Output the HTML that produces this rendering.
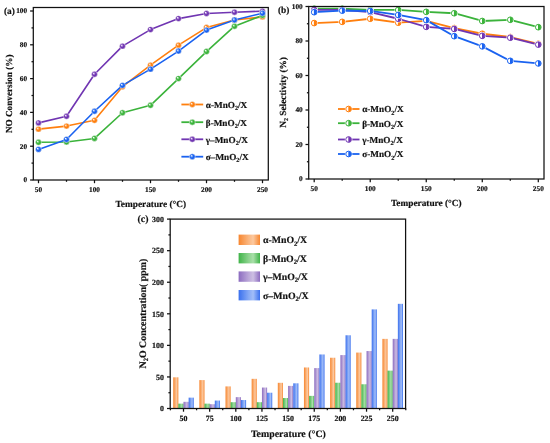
<!DOCTYPE html><html><head><meta charset="utf-8"><style>html,body{margin:0;padding:0;background:#fff;overflow:hidden;}svg{display:block;filter:grayscale(0.0001);}</style></head><body><svg width="550" height="443" viewBox="0 0 550 443">
<defs>
<radialGradient id="spha" cx="0.5" cy="0.5" r="0.5" fx="0.33" fy="0.33"><stop offset="0" stop-color="#ffffff"/><stop offset="0.18" stop-color="#ffc48f"/><stop offset="0.55" stop-color="#ff7f0e"/><stop offset="0.85" stop-color="#ff7f0e"/><stop offset="1" stop-color="#e06a05"/></radialGradient>
<radialGradient id="sphb" cx="0.5" cy="0.5" r="0.5" fx="0.33" fy="0.33"><stop offset="0" stop-color="#ffffff"/><stop offset="0.18" stop-color="#a4e0a4"/><stop offset="0.55" stop-color="#3bb33b"/><stop offset="0.85" stop-color="#3bb33b"/><stop offset="1" stop-color="#2a9a2a"/></radialGradient>
<radialGradient id="sphg" cx="0.5" cy="0.5" r="0.5" fx="0.33" fy="0.33"><stop offset="0" stop-color="#ffffff"/><stop offset="0.18" stop-color="#c7a8e6"/><stop offset="0.55" stop-color="#7035b2"/><stop offset="0.85" stop-color="#7035b2"/><stop offset="1" stop-color="#62289a"/></radialGradient>
<radialGradient id="sphs" cx="0.5" cy="0.5" r="0.5" fx="0.33" fy="0.33"><stop offset="0" stop-color="#ffffff"/><stop offset="0.18" stop-color="#9fc0fa"/><stop offset="0.55" stop-color="#1a62f0"/><stop offset="0.85" stop-color="#1a62f0"/><stop offset="1" stop-color="#0f4fcf"/></radialGradient>
<linearGradient id="bara" x1="0" y1="0" x2="1" y2="0"><stop offset="0" stop-color="#f7862f"/><stop offset="0.45" stop-color="#fab57e"/><stop offset="0.68" stop-color="#fcc9a0"/><stop offset="1" stop-color="#f7862f"/></linearGradient>
<linearGradient id="barb" x1="0" y1="0" x2="1" y2="0"><stop offset="0" stop-color="#40b449"/><stop offset="0.45" stop-color="#8ad28c"/><stop offset="0.68" stop-color="#a9dfa9"/><stop offset="1" stop-color="#40b449"/></linearGradient>
<linearGradient id="barg" x1="0" y1="0" x2="1" y2="0"><stop offset="0" stop-color="#8c6cc0"/><stop offset="0.45" stop-color="#baa6d8"/><stop offset="0.68" stop-color="#cdbfe3"/><stop offset="1" stop-color="#8c6cc0"/></linearGradient>
<linearGradient id="bars" x1="0" y1="0" x2="1" y2="0"><stop offset="0" stop-color="#3a70ee"/><stop offset="0.45" stop-color="#83a7f5"/><stop offset="0.68" stop-color="#a2bef8"/><stop offset="1" stop-color="#3a70ee"/></linearGradient>
</defs>
<rect width="550" height="443" fill="#fff"/>
<line x1="30.1" y1="180" x2="33.3" y2="180" stroke="#111" stroke-width="1.25"/>
<text transform="translate(27.1,182.45) scale(1,1.0)" font-size="7.3" text-anchor="end" text-rendering="geometricPrecision" font-family="Liberation Serif" font-weight="bold" stroke="#111" stroke-width="0.18" fill="#111">0</text>
<line x1="31.5" y1="163.1" x2="33.3" y2="163.1" stroke="#111" stroke-width="1.25"/>
<line x1="30.1" y1="146.2" x2="33.3" y2="146.2" stroke="#111" stroke-width="1.25"/>
<text transform="translate(27.1,148.65) scale(1,1.0)" font-size="7.3" text-anchor="end" text-rendering="geometricPrecision" font-family="Liberation Serif" font-weight="bold" stroke="#111" stroke-width="0.18" fill="#111">20</text>
<line x1="31.5" y1="129.3" x2="33.3" y2="129.3" stroke="#111" stroke-width="1.25"/>
<line x1="30.1" y1="112.4" x2="33.3" y2="112.4" stroke="#111" stroke-width="1.25"/>
<text transform="translate(27.1,114.85) scale(1,1.0)" font-size="7.3" text-anchor="end" text-rendering="geometricPrecision" font-family="Liberation Serif" font-weight="bold" stroke="#111" stroke-width="0.18" fill="#111">40</text>
<line x1="31.5" y1="95.5" x2="33.3" y2="95.5" stroke="#111" stroke-width="1.25"/>
<line x1="30.1" y1="78.6" x2="33.3" y2="78.6" stroke="#111" stroke-width="1.25"/>
<text transform="translate(27.1,81.05) scale(1,1.0)" font-size="7.3" text-anchor="end" text-rendering="geometricPrecision" font-family="Liberation Serif" font-weight="bold" stroke="#111" stroke-width="0.18" fill="#111">60</text>
<line x1="31.5" y1="61.7" x2="33.3" y2="61.7" stroke="#111" stroke-width="1.25"/>
<line x1="30.1" y1="44.8" x2="33.3" y2="44.8" stroke="#111" stroke-width="1.25"/>
<text transform="translate(27.1,47.25) scale(1,1.0)" font-size="7.3" text-anchor="end" text-rendering="geometricPrecision" font-family="Liberation Serif" font-weight="bold" stroke="#111" stroke-width="0.18" fill="#111">80</text>
<line x1="31.5" y1="27.9" x2="33.3" y2="27.9" stroke="#111" stroke-width="1.25"/>
<line x1="30.1" y1="11" x2="33.3" y2="11" stroke="#111" stroke-width="1.25"/>
<text transform="translate(27.1,13.45) scale(1,1.0)" font-size="7.3" text-anchor="end" text-rendering="geometricPrecision" font-family="Liberation Serif" font-weight="bold" stroke="#111" stroke-width="0.18" fill="#111">100</text>
<line x1="38.5" y1="180" x2="38.5" y2="183.2" stroke="#111" stroke-width="1.25"/>
<text transform="translate(38.5,191.8) scale(1,1.0)" font-size="7.3" text-anchor="middle" text-rendering="geometricPrecision" font-family="Liberation Serif" font-weight="bold" stroke="#111" stroke-width="0.18" fill="#111">50</text>
<line x1="66.5" y1="180" x2="66.5" y2="181.8" stroke="#111" stroke-width="1.25"/>
<line x1="94.5" y1="180" x2="94.5" y2="183.2" stroke="#111" stroke-width="1.25"/>
<text transform="translate(94.5,191.8) scale(1,1.0)" font-size="7.3" text-anchor="middle" text-rendering="geometricPrecision" font-family="Liberation Serif" font-weight="bold" stroke="#111" stroke-width="0.18" fill="#111">100</text>
<line x1="122.5" y1="180" x2="122.5" y2="181.8" stroke="#111" stroke-width="1.25"/>
<line x1="150.5" y1="180" x2="150.5" y2="183.2" stroke="#111" stroke-width="1.25"/>
<text transform="translate(150.5,191.8) scale(1,1.0)" font-size="7.3" text-anchor="middle" text-rendering="geometricPrecision" font-family="Liberation Serif" font-weight="bold" stroke="#111" stroke-width="0.18" fill="#111">150</text>
<line x1="178.5" y1="180" x2="178.5" y2="181.8" stroke="#111" stroke-width="1.25"/>
<line x1="206.5" y1="180" x2="206.5" y2="183.2" stroke="#111" stroke-width="1.25"/>
<text transform="translate(206.5,191.8) scale(1,1.0)" font-size="7.3" text-anchor="middle" text-rendering="geometricPrecision" font-family="Liberation Serif" font-weight="bold" stroke="#111" stroke-width="0.18" fill="#111">200</text>
<line x1="234.5" y1="180" x2="234.5" y2="181.8" stroke="#111" stroke-width="1.25"/>
<line x1="262.5" y1="180" x2="262.5" y2="183.2" stroke="#111" stroke-width="1.25"/>
<text transform="translate(262.5,191.8) scale(1,1.0)" font-size="7.3" text-anchor="middle" text-rendering="geometricPrecision" font-family="Liberation Serif" font-weight="bold" stroke="#111" stroke-width="0.18" fill="#111">250</text>
<text x="150.8" y="207" font-size="9.3" text-anchor="middle" text-rendering="geometricPrecision" font-family="Liberation Serif" font-weight="bold" stroke="#111" stroke-width="0.18" fill="#111" >Temperature (°C)</text>
<text transform="translate(12.2,93.8) rotate(-90)" font-size="9.200000000000001" text-anchor="middle" text-rendering="geometricPrecision" font-family="Liberation Serif" font-weight="bold" stroke="#111" stroke-width="0.18" fill="#111">NO Conversion (%)</text>
<text x="3.9" y="14.4" font-size="9.3" text-anchor="start" text-rendering="geometricPrecision" font-family="Liberation Serif" font-weight="bold" stroke="#111" stroke-width="0.18" fill="#111" >(a)</text>
<polyline points="38.5,129.13 66.5,126.09 94.5,120.34 122.5,86.71 150.5,65.08 178.5,45.14 206.5,27.56 234.5,19.96 262.5,16.91" fill="none" stroke="#ff7f0e" stroke-width="1.6" stroke-linejoin="round"/>
<circle cx="38.5" cy="129.13" r="2.95" fill="url(#spha)" stroke="#fff" stroke-width="0.5"/>
<circle cx="66.5" cy="126.09" r="2.95" fill="url(#spha)" stroke="#fff" stroke-width="0.5"/>
<circle cx="94.5" cy="120.34" r="2.95" fill="url(#spha)" stroke="#fff" stroke-width="0.5"/>
<circle cx="122.5" cy="86.71" r="2.95" fill="url(#spha)" stroke="#fff" stroke-width="0.5"/>
<circle cx="150.5" cy="65.08" r="2.95" fill="url(#spha)" stroke="#fff" stroke-width="0.5"/>
<circle cx="178.5" cy="45.14" r="2.95" fill="url(#spha)" stroke="#fff" stroke-width="0.5"/>
<circle cx="206.5" cy="27.56" r="2.95" fill="url(#spha)" stroke="#fff" stroke-width="0.5"/>
<circle cx="234.5" cy="19.96" r="2.95" fill="url(#spha)" stroke="#fff" stroke-width="0.5"/>
<circle cx="262.5" cy="16.91" r="2.95" fill="url(#spha)" stroke="#fff" stroke-width="0.5"/>
<polyline points="38.5,142.31 66.5,141.97 94.5,138.43 122.5,112.74 150.5,105.3 178.5,78.6 206.5,51.56 234.5,26.21 262.5,15.39" fill="none" stroke="#3bb33b" stroke-width="1.6" stroke-linejoin="round"/>
<circle cx="38.5" cy="142.31" r="2.95" fill="url(#sphb)" stroke="#fff" stroke-width="0.5"/>
<circle cx="66.5" cy="141.97" r="2.95" fill="url(#sphb)" stroke="#fff" stroke-width="0.5"/>
<circle cx="94.5" cy="138.43" r="2.95" fill="url(#sphb)" stroke="#fff" stroke-width="0.5"/>
<circle cx="122.5" cy="112.74" r="2.95" fill="url(#sphb)" stroke="#fff" stroke-width="0.5"/>
<circle cx="150.5" cy="105.3" r="2.95" fill="url(#sphb)" stroke="#fff" stroke-width="0.5"/>
<circle cx="178.5" cy="78.6" r="2.95" fill="url(#sphb)" stroke="#fff" stroke-width="0.5"/>
<circle cx="206.5" cy="51.56" r="2.95" fill="url(#sphb)" stroke="#fff" stroke-width="0.5"/>
<circle cx="234.5" cy="26.21" r="2.95" fill="url(#sphb)" stroke="#fff" stroke-width="0.5"/>
<circle cx="262.5" cy="15.39" r="2.95" fill="url(#sphb)" stroke="#fff" stroke-width="0.5"/>
<polyline points="38.5,122.88 66.5,116.29 94.5,74.21 122.5,46.15 150.5,29.59 178.5,18.61 206.5,13.53 234.5,12.18 262.5,11.17" fill="none" stroke="#7035b2" stroke-width="1.6" stroke-linejoin="round"/>
<circle cx="38.5" cy="122.88" r="2.95" fill="url(#sphg)" stroke="#fff" stroke-width="0.5"/>
<circle cx="66.5" cy="116.29" r="2.95" fill="url(#sphg)" stroke="#fff" stroke-width="0.5"/>
<circle cx="94.5" cy="74.21" r="2.95" fill="url(#sphg)" stroke="#fff" stroke-width="0.5"/>
<circle cx="122.5" cy="46.15" r="2.95" fill="url(#sphg)" stroke="#fff" stroke-width="0.5"/>
<circle cx="150.5" cy="29.59" r="2.95" fill="url(#sphg)" stroke="#fff" stroke-width="0.5"/>
<circle cx="178.5" cy="18.61" r="2.95" fill="url(#sphg)" stroke="#fff" stroke-width="0.5"/>
<circle cx="206.5" cy="13.53" r="2.95" fill="url(#sphg)" stroke="#fff" stroke-width="0.5"/>
<circle cx="234.5" cy="12.18" r="2.95" fill="url(#sphg)" stroke="#fff" stroke-width="0.5"/>
<circle cx="262.5" cy="11.17" r="2.95" fill="url(#sphg)" stroke="#fff" stroke-width="0.5"/>
<polyline points="38.5,149.41 66.5,139.44 94.5,111.22 122.5,85.36 150.5,69.14 178.5,51.05 206.5,30.1 234.5,19.96 262.5,13.2" fill="none" stroke="#1a62f0" stroke-width="1.6" stroke-linejoin="round"/>
<circle cx="38.5" cy="149.41" r="2.95" fill="url(#sphs)" stroke="#fff" stroke-width="0.5"/>
<circle cx="66.5" cy="139.44" r="2.95" fill="url(#sphs)" stroke="#fff" stroke-width="0.5"/>
<circle cx="94.5" cy="111.22" r="2.95" fill="url(#sphs)" stroke="#fff" stroke-width="0.5"/>
<circle cx="122.5" cy="85.36" r="2.95" fill="url(#sphs)" stroke="#fff" stroke-width="0.5"/>
<circle cx="150.5" cy="69.14" r="2.95" fill="url(#sphs)" stroke="#fff" stroke-width="0.5"/>
<circle cx="178.5" cy="51.05" r="2.95" fill="url(#sphs)" stroke="#fff" stroke-width="0.5"/>
<circle cx="206.5" cy="30.1" r="2.95" fill="url(#sphs)" stroke="#fff" stroke-width="0.5"/>
<circle cx="234.5" cy="19.96" r="2.95" fill="url(#sphs)" stroke="#fff" stroke-width="0.5"/>
<circle cx="262.5" cy="13.2" r="2.95" fill="url(#sphs)" stroke="#fff" stroke-width="0.5"/>
<rect x="33.3" y="7.5" width="235" height="172.5" fill="none" stroke="#111" stroke-width="1.25"/>
<line x1="181.4" y1="104.5" x2="203.2" y2="104.5" stroke="#ff7f0e" stroke-width="1.8"/>
<circle cx="192.3" cy="104.5" r="2.95" fill="url(#spha)" stroke="#fff" stroke-width="0.5"/>
<text x="205.8" y="107.8" font-size="9.2" text-rendering="geometricPrecision" font-family="Liberation Serif" font-weight="bold" stroke="#111" stroke-width="0.18" fill="#111">α-MnO<tspan font-size="6.2" dy="2.2">2</tspan><tspan dy="-2.2">/X</tspan></text>
<line x1="181.4" y1="122.2" x2="203.2" y2="122.2" stroke="#3bb33b" stroke-width="1.8"/>
<circle cx="192.3" cy="122.2" r="2.95" fill="url(#sphb)" stroke="#fff" stroke-width="0.5"/>
<text x="205.8" y="125.5" font-size="9.2" text-rendering="geometricPrecision" font-family="Liberation Serif" font-weight="bold" stroke="#111" stroke-width="0.18" fill="#111">β-MnO<tspan font-size="6.2" dy="2.2">2</tspan><tspan dy="-2.2">/X</tspan></text>
<line x1="181.4" y1="139.3" x2="203.2" y2="139.3" stroke="#7035b2" stroke-width="1.8"/>
<circle cx="192.3" cy="139.3" r="2.95" fill="url(#sphg)" stroke="#fff" stroke-width="0.5"/>
<text x="205.8" y="142.6" font-size="9.2" text-rendering="geometricPrecision" font-family="Liberation Serif" font-weight="bold" stroke="#111" stroke-width="0.18" fill="#111">γ–MnO<tspan font-size="6.2" dy="2.2">2</tspan><tspan dy="-2.2">/X</tspan></text>
<line x1="181.4" y1="156.7" x2="203.2" y2="156.7" stroke="#1a62f0" stroke-width="1.8"/>
<circle cx="192.3" cy="156.7" r="2.95" fill="url(#sphs)" stroke="#fff" stroke-width="0.5"/>
<text x="205.8" y="160" font-size="9.2" text-rendering="geometricPrecision" font-family="Liberation Serif" font-weight="bold" stroke="#111" stroke-width="0.18" fill="#111">σ–MnO<tspan font-size="6.2" dy="2.2">2</tspan><tspan dy="-2.2">/X</tspan></text>
<line x1="305.5" y1="179" x2="308.7" y2="179" stroke="#111" stroke-width="1.25"/>
<text transform="translate(302.7,181.3) scale(1,1.0)" font-size="7.3" text-anchor="end" text-rendering="geometricPrecision" font-family="Liberation Serif" font-weight="bold" stroke="#111" stroke-width="0.18" fill="#111">0</text>
<line x1="306.9" y1="161.75" x2="308.7" y2="161.75" stroke="#111" stroke-width="1.25"/>
<line x1="305.5" y1="144.5" x2="308.7" y2="144.5" stroke="#111" stroke-width="1.25"/>
<text transform="translate(302.7,146.8) scale(1,1.0)" font-size="7.3" text-anchor="end" text-rendering="geometricPrecision" font-family="Liberation Serif" font-weight="bold" stroke="#111" stroke-width="0.18" fill="#111">20</text>
<line x1="306.9" y1="127.25" x2="308.7" y2="127.25" stroke="#111" stroke-width="1.25"/>
<line x1="305.5" y1="110" x2="308.7" y2="110" stroke="#111" stroke-width="1.25"/>
<text transform="translate(302.7,112.3) scale(1,1.0)" font-size="7.3" text-anchor="end" text-rendering="geometricPrecision" font-family="Liberation Serif" font-weight="bold" stroke="#111" stroke-width="0.18" fill="#111">40</text>
<line x1="306.9" y1="92.75" x2="308.7" y2="92.75" stroke="#111" stroke-width="1.25"/>
<line x1="305.5" y1="75.5" x2="308.7" y2="75.5" stroke="#111" stroke-width="1.25"/>
<text transform="translate(302.7,77.8) scale(1,1.0)" font-size="7.3" text-anchor="end" text-rendering="geometricPrecision" font-family="Liberation Serif" font-weight="bold" stroke="#111" stroke-width="0.18" fill="#111">60</text>
<line x1="306.9" y1="58.25" x2="308.7" y2="58.25" stroke="#111" stroke-width="1.25"/>
<line x1="305.5" y1="41" x2="308.7" y2="41" stroke="#111" stroke-width="1.25"/>
<text transform="translate(302.7,43.3) scale(1,1.0)" font-size="7.3" text-anchor="end" text-rendering="geometricPrecision" font-family="Liberation Serif" font-weight="bold" stroke="#111" stroke-width="0.18" fill="#111">80</text>
<line x1="306.9" y1="23.75" x2="308.7" y2="23.75" stroke="#111" stroke-width="1.25"/>
<line x1="305.5" y1="6.5" x2="308.7" y2="6.5" stroke="#111" stroke-width="1.25"/>
<text transform="translate(302.7,8.8) scale(1,1.0)" font-size="7.3" text-anchor="end" text-rendering="geometricPrecision" font-family="Liberation Serif" font-weight="bold" stroke="#111" stroke-width="0.18" fill="#111">100</text>
<line x1="314.2" y1="179" x2="314.2" y2="182.2" stroke="#111" stroke-width="1.25"/>
<text transform="translate(314.2,191) scale(1,1.0)" font-size="7.3" text-anchor="middle" text-rendering="geometricPrecision" font-family="Liberation Serif" font-weight="bold" stroke="#111" stroke-width="0.18" fill="#111">50</text>
<line x1="342.21" y1="179" x2="342.21" y2="180.8" stroke="#111" stroke-width="1.25"/>
<line x1="370.23" y1="179" x2="370.23" y2="182.2" stroke="#111" stroke-width="1.25"/>
<text transform="translate(370.23,191) scale(1,1.0)" font-size="7.3" text-anchor="middle" text-rendering="geometricPrecision" font-family="Liberation Serif" font-weight="bold" stroke="#111" stroke-width="0.18" fill="#111">100</text>
<line x1="398.24" y1="179" x2="398.24" y2="180.8" stroke="#111" stroke-width="1.25"/>
<line x1="426.25" y1="179" x2="426.25" y2="182.2" stroke="#111" stroke-width="1.25"/>
<text transform="translate(426.25,191) scale(1,1.0)" font-size="7.3" text-anchor="middle" text-rendering="geometricPrecision" font-family="Liberation Serif" font-weight="bold" stroke="#111" stroke-width="0.18" fill="#111">150</text>
<line x1="454.26" y1="179" x2="454.26" y2="180.8" stroke="#111" stroke-width="1.25"/>
<line x1="482.27" y1="179" x2="482.27" y2="182.2" stroke="#111" stroke-width="1.25"/>
<text transform="translate(482.27,191) scale(1,1.0)" font-size="7.3" text-anchor="middle" text-rendering="geometricPrecision" font-family="Liberation Serif" font-weight="bold" stroke="#111" stroke-width="0.18" fill="#111">200</text>
<line x1="510.29" y1="179" x2="510.29" y2="180.8" stroke="#111" stroke-width="1.25"/>
<line x1="538.3" y1="179" x2="538.3" y2="182.2" stroke="#111" stroke-width="1.25"/>
<text transform="translate(538.3,191) scale(1,1.0)" font-size="7.3" text-anchor="middle" text-rendering="geometricPrecision" font-family="Liberation Serif" font-weight="bold" stroke="#111" stroke-width="0.18" fill="#111">250</text>
<text x="426.3" y="206.3" font-size="9.3" text-anchor="middle" text-rendering="geometricPrecision" font-family="Liberation Serif" font-weight="bold" stroke="#111" stroke-width="0.18" fill="#111" >Temperature (°C)</text>
<text transform="translate(286.0,92.4) rotate(-90)" font-size="9.3" text-anchor="middle" text-rendering="geometricPrecision" font-family="Liberation Serif" font-weight="bold" stroke="#111" stroke-width="0.18" fill="#111">N<tspan font-size="6" dy="1.8">2</tspan><tspan dy="-1.8"> Selectivity (%)</tspan></text>
<text x="278" y="13.3" font-size="9.4" text-anchor="start" text-rendering="geometricPrecision" font-family="Liberation Serif" font-weight="bold" stroke="#111" stroke-width="0.18" fill="#111" >(b)</text>
<polyline points="314.2,23.06 342.21,21.85 370.23,18.75 398.24,22.72 426.25,20.82 454.26,28.06 482.27,33.75 510.29,37.03 538.3,43.76" fill="none" stroke="#ff7f0e" stroke-width="1.8" stroke-linejoin="round"/>
<circle cx="314.2" cy="23.06" r="3.75" fill="#fff"/><circle cx="314.2" cy="23.06" r="2.85" fill="#fff" stroke="#ff7f0e" stroke-width="1"/><path d="M313.9,20.21 A2.85,2.85 0 0 1 313.9,25.91 Z" fill="#ff7f0e"/>
<circle cx="342.21" cy="21.85" r="3.75" fill="#fff"/><circle cx="342.21" cy="21.85" r="2.85" fill="#fff" stroke="#ff7f0e" stroke-width="1"/><path d="M341.91,19 A2.85,2.85 0 0 1 341.91,24.7 Z" fill="#ff7f0e"/>
<circle cx="370.23" cy="18.75" r="3.75" fill="#fff"/><circle cx="370.23" cy="18.75" r="2.85" fill="#fff" stroke="#ff7f0e" stroke-width="1"/><path d="M369.93,15.9 A2.85,2.85 0 0 1 369.93,21.6 Z" fill="#ff7f0e"/>
<circle cx="398.24" cy="22.72" r="3.75" fill="#fff"/><circle cx="398.24" cy="22.72" r="2.85" fill="#fff" stroke="#ff7f0e" stroke-width="1"/><path d="M397.94,19.87 A2.85,2.85 0 0 1 397.94,25.57 Z" fill="#ff7f0e"/>
<circle cx="426.25" cy="20.82" r="3.75" fill="#fff"/><circle cx="426.25" cy="20.82" r="2.85" fill="#fff" stroke="#ff7f0e" stroke-width="1"/><path d="M425.95,17.97 A2.85,2.85 0 0 1 425.95,23.67 Z" fill="#ff7f0e"/>
<circle cx="454.26" cy="28.06" r="3.75" fill="#fff"/><circle cx="454.26" cy="28.06" r="2.85" fill="#fff" stroke="#ff7f0e" stroke-width="1"/><path d="M453.96,25.21 A2.85,2.85 0 0 1 453.96,30.91 Z" fill="#ff7f0e"/>
<circle cx="482.27" cy="33.75" r="3.75" fill="#fff"/><circle cx="482.27" cy="33.75" r="2.85" fill="#fff" stroke="#ff7f0e" stroke-width="1"/><path d="M481.97,30.9 A2.85,2.85 0 0 1 481.97,36.6 Z" fill="#ff7f0e"/>
<circle cx="510.29" cy="37.03" r="3.75" fill="#fff"/><circle cx="510.29" cy="37.03" r="2.85" fill="#fff" stroke="#ff7f0e" stroke-width="1"/><path d="M509.99,34.18 A2.85,2.85 0 0 1 509.99,39.88 Z" fill="#ff7f0e"/>
<circle cx="538.3" cy="43.76" r="3.75" fill="#fff"/><circle cx="538.3" cy="43.76" r="2.85" fill="#fff" stroke="#ff7f0e" stroke-width="1"/><path d="M538,40.91 A2.85,2.85 0 0 1 538,46.61 Z" fill="#ff7f0e"/>
<polyline points="314.2,8.74 342.21,8.74 370.23,9.95 398.24,9.95 426.25,11.85 454.26,13.23 482.27,20.99 510.29,19.78 538.3,27.2" fill="none" stroke="#3bb33b" stroke-width="1.8" stroke-linejoin="round"/>
<circle cx="314.2" cy="8.74" r="3.75" fill="#fff"/><circle cx="314.2" cy="8.74" r="2.85" fill="#fff" stroke="#3bb33b" stroke-width="1"/><path d="M313.9,5.89 A2.85,2.85 0 0 1 313.9,11.59 Z" fill="#3bb33b"/>
<circle cx="342.21" cy="8.74" r="3.75" fill="#fff"/><circle cx="342.21" cy="8.74" r="2.85" fill="#fff" stroke="#3bb33b" stroke-width="1"/><path d="M341.91,5.89 A2.85,2.85 0 0 1 341.91,11.59 Z" fill="#3bb33b"/>
<circle cx="370.23" cy="9.95" r="3.75" fill="#fff"/><circle cx="370.23" cy="9.95" r="2.85" fill="#fff" stroke="#3bb33b" stroke-width="1"/><path d="M369.93,7.1 A2.85,2.85 0 0 1 369.93,12.8 Z" fill="#3bb33b"/>
<circle cx="398.24" cy="9.95" r="3.75" fill="#fff"/><circle cx="398.24" cy="9.95" r="2.85" fill="#fff" stroke="#3bb33b" stroke-width="1"/><path d="M397.94,7.1 A2.85,2.85 0 0 1 397.94,12.8 Z" fill="#3bb33b"/>
<circle cx="426.25" cy="11.85" r="3.75" fill="#fff"/><circle cx="426.25" cy="11.85" r="2.85" fill="#fff" stroke="#3bb33b" stroke-width="1"/><path d="M425.95,9 A2.85,2.85 0 0 1 425.95,14.7 Z" fill="#3bb33b"/>
<circle cx="454.26" cy="13.23" r="3.75" fill="#fff"/><circle cx="454.26" cy="13.23" r="2.85" fill="#fff" stroke="#3bb33b" stroke-width="1"/><path d="M453.96,10.38 A2.85,2.85 0 0 1 453.96,16.08 Z" fill="#3bb33b"/>
<circle cx="482.27" cy="20.99" r="3.75" fill="#fff"/><circle cx="482.27" cy="20.99" r="2.85" fill="#fff" stroke="#3bb33b" stroke-width="1"/><path d="M481.97,18.14 A2.85,2.85 0 0 1 481.97,23.84 Z" fill="#3bb33b"/>
<circle cx="510.29" cy="19.78" r="3.75" fill="#fff"/><circle cx="510.29" cy="19.78" r="2.85" fill="#fff" stroke="#3bb33b" stroke-width="1"/><path d="M509.99,16.93 A2.85,2.85 0 0 1 509.99,22.63 Z" fill="#3bb33b"/>
<circle cx="538.3" cy="27.2" r="3.75" fill="#fff"/><circle cx="538.3" cy="27.2" r="2.85" fill="#fff" stroke="#3bb33b" stroke-width="1"/><path d="M538,24.35 A2.85,2.85 0 0 1 538,30.05 Z" fill="#3bb33b"/>
<polyline points="314.2,9.95 342.21,9.95 370.23,12.19 398.24,18.75 426.25,26.85 454.26,28.92 482.27,35.82 510.29,37.72 538.3,44.62" fill="none" stroke="#7035b2" stroke-width="1.8" stroke-linejoin="round"/>
<circle cx="314.2" cy="9.95" r="3.75" fill="#fff"/><circle cx="314.2" cy="9.95" r="2.85" fill="#fff" stroke="#7035b2" stroke-width="1"/><path d="M313.9,7.1 A2.85,2.85 0 0 1 313.9,12.8 Z" fill="#7035b2"/>
<circle cx="342.21" cy="9.95" r="3.75" fill="#fff"/><circle cx="342.21" cy="9.95" r="2.85" fill="#fff" stroke="#7035b2" stroke-width="1"/><path d="M341.91,7.1 A2.85,2.85 0 0 1 341.91,12.8 Z" fill="#7035b2"/>
<circle cx="370.23" cy="12.19" r="3.75" fill="#fff"/><circle cx="370.23" cy="12.19" r="2.85" fill="#fff" stroke="#7035b2" stroke-width="1"/><path d="M369.93,9.34 A2.85,2.85 0 0 1 369.93,15.04 Z" fill="#7035b2"/>
<circle cx="398.24" cy="18.75" r="3.75" fill="#fff"/><circle cx="398.24" cy="18.75" r="2.85" fill="#fff" stroke="#7035b2" stroke-width="1"/><path d="M397.94,15.9 A2.85,2.85 0 0 1 397.94,21.6 Z" fill="#7035b2"/>
<circle cx="426.25" cy="26.85" r="3.75" fill="#fff"/><circle cx="426.25" cy="26.85" r="2.85" fill="#fff" stroke="#7035b2" stroke-width="1"/><path d="M425.95,24 A2.85,2.85 0 0 1 425.95,29.7 Z" fill="#7035b2"/>
<circle cx="454.26" cy="28.92" r="3.75" fill="#fff"/><circle cx="454.26" cy="28.92" r="2.85" fill="#fff" stroke="#7035b2" stroke-width="1"/><path d="M453.96,26.07 A2.85,2.85 0 0 1 453.96,31.77 Z" fill="#7035b2"/>
<circle cx="482.27" cy="35.82" r="3.75" fill="#fff"/><circle cx="482.27" cy="35.82" r="2.85" fill="#fff" stroke="#7035b2" stroke-width="1"/><path d="M481.97,32.97 A2.85,2.85 0 0 1 481.97,38.67 Z" fill="#7035b2"/>
<circle cx="510.29" cy="37.72" r="3.75" fill="#fff"/><circle cx="510.29" cy="37.72" r="2.85" fill="#fff" stroke="#7035b2" stroke-width="1"/><path d="M509.99,34.87 A2.85,2.85 0 0 1 509.99,40.57 Z" fill="#7035b2"/>
<circle cx="538.3" cy="44.62" r="3.75" fill="#fff"/><circle cx="538.3" cy="44.62" r="2.85" fill="#fff" stroke="#7035b2" stroke-width="1"/><path d="M538,41.77 A2.85,2.85 0 0 1 538,47.47 Z" fill="#7035b2"/>
<polyline points="314.2,12.19 342.21,10.64 370.23,10.98 398.24,14.95 426.25,20.13 454.26,36.17 482.27,46.35 510.29,60.84 538.3,63.42" fill="none" stroke="#1a62f0" stroke-width="1.8" stroke-linejoin="round"/>
<circle cx="314.2" cy="12.19" r="3.75" fill="#fff"/><circle cx="314.2" cy="12.19" r="2.85" fill="#fff" stroke="#1a62f0" stroke-width="1"/><path d="M313.9,9.34 A2.85,2.85 0 0 1 313.9,15.04 Z" fill="#1a62f0"/>
<circle cx="342.21" cy="10.64" r="3.75" fill="#fff"/><circle cx="342.21" cy="10.64" r="2.85" fill="#fff" stroke="#1a62f0" stroke-width="1"/><path d="M341.91,7.79 A2.85,2.85 0 0 1 341.91,13.49 Z" fill="#1a62f0"/>
<circle cx="370.23" cy="10.98" r="3.75" fill="#fff"/><circle cx="370.23" cy="10.98" r="2.85" fill="#fff" stroke="#1a62f0" stroke-width="1"/><path d="M369.93,8.13 A2.85,2.85 0 0 1 369.93,13.83 Z" fill="#1a62f0"/>
<circle cx="398.24" cy="14.95" r="3.75" fill="#fff"/><circle cx="398.24" cy="14.95" r="2.85" fill="#fff" stroke="#1a62f0" stroke-width="1"/><path d="M397.94,12.1 A2.85,2.85 0 0 1 397.94,17.8 Z" fill="#1a62f0"/>
<circle cx="426.25" cy="20.13" r="3.75" fill="#fff"/><circle cx="426.25" cy="20.13" r="2.85" fill="#fff" stroke="#1a62f0" stroke-width="1"/><path d="M425.95,17.28 A2.85,2.85 0 0 1 425.95,22.98 Z" fill="#1a62f0"/>
<circle cx="454.26" cy="36.17" r="3.75" fill="#fff"/><circle cx="454.26" cy="36.17" r="2.85" fill="#fff" stroke="#1a62f0" stroke-width="1"/><path d="M453.96,33.32 A2.85,2.85 0 0 1 453.96,39.02 Z" fill="#1a62f0"/>
<circle cx="482.27" cy="46.35" r="3.75" fill="#fff"/><circle cx="482.27" cy="46.35" r="2.85" fill="#fff" stroke="#1a62f0" stroke-width="1"/><path d="M481.97,43.5 A2.85,2.85 0 0 1 481.97,49.2 Z" fill="#1a62f0"/>
<circle cx="510.29" cy="60.84" r="3.75" fill="#fff"/><circle cx="510.29" cy="60.84" r="2.85" fill="#fff" stroke="#1a62f0" stroke-width="1"/><path d="M509.99,57.99 A2.85,2.85 0 0 1 509.99,63.69 Z" fill="#1a62f0"/>
<circle cx="538.3" cy="63.42" r="3.75" fill="#fff"/><circle cx="538.3" cy="63.42" r="2.85" fill="#fff" stroke="#1a62f0" stroke-width="1"/><path d="M538,60.57 A2.85,2.85 0 0 1 538,66.27 Z" fill="#1a62f0"/>
<rect x="308.7" y="6.5" width="235.3" height="172.5" fill="none" stroke="#111" stroke-width="1.25"/>
<line x1="338" y1="109" x2="359.5" y2="109" stroke="#ff7f0e" stroke-width="1.8"/>
<circle cx="348.6" cy="109" r="3.75" fill="#fff"/><circle cx="348.6" cy="109" r="2.85" fill="#fff" stroke="#ff7f0e" stroke-width="1"/><path d="M348.3,106.15 A2.85,2.85 0 0 1 348.3,111.85 Z" fill="#ff7f0e"/>
<text x="362.2" y="112.3" font-size="9.2" text-rendering="geometricPrecision" font-family="Liberation Serif" font-weight="bold" stroke="#111" stroke-width="0.18" fill="#111">α-MnO<tspan font-size="6.2" dy="2.2">2</tspan><tspan dy="-2.2">/X</tspan></text>
<line x1="338" y1="123.2" x2="359.5" y2="123.2" stroke="#3bb33b" stroke-width="1.8"/>
<circle cx="348.6" cy="123.2" r="3.75" fill="#fff"/><circle cx="348.6" cy="123.2" r="2.85" fill="#fff" stroke="#3bb33b" stroke-width="1"/><path d="M348.3,120.35 A2.85,2.85 0 0 1 348.3,126.05 Z" fill="#3bb33b"/>
<text x="362.2" y="126.5" font-size="9.2" text-rendering="geometricPrecision" font-family="Liberation Serif" font-weight="bold" stroke="#111" stroke-width="0.18" fill="#111">β-MnO<tspan font-size="6.2" dy="2.2">2</tspan><tspan dy="-2.2">/X</tspan></text>
<line x1="338" y1="139.5" x2="359.5" y2="139.5" stroke="#7035b2" stroke-width="1.8"/>
<circle cx="348.6" cy="139.5" r="3.75" fill="#fff"/><circle cx="348.6" cy="139.5" r="2.85" fill="#fff" stroke="#7035b2" stroke-width="1"/><path d="M348.3,136.65 A2.85,2.85 0 0 1 348.3,142.35 Z" fill="#7035b2"/>
<text x="362.2" y="142.8" font-size="9.2" text-rendering="geometricPrecision" font-family="Liberation Serif" font-weight="bold" stroke="#111" stroke-width="0.18" fill="#111">γ-MnO<tspan font-size="6.2" dy="2.2">2</tspan><tspan dy="-2.2">/X</tspan></text>
<line x1="338" y1="154" x2="359.5" y2="154" stroke="#1a62f0" stroke-width="1.8"/>
<circle cx="348.6" cy="154" r="3.75" fill="#fff"/><circle cx="348.6" cy="154" r="2.85" fill="#fff" stroke="#1a62f0" stroke-width="1"/><path d="M348.3,151.15 A2.85,2.85 0 0 1 348.3,156.85 Z" fill="#1a62f0"/>
<text x="362.2" y="157.3" font-size="9.2" text-rendering="geometricPrecision" font-family="Liberation Serif" font-weight="bold" stroke="#111" stroke-width="0.18" fill="#111">σ-MnO<tspan font-size="6.2" dy="2.2">2</tspan><tspan dy="-2.2">/X</tspan></text>
<rect x="173.2" y="377.31" width="5.15" height="31.19" fill="url(#bara)"/>
<rect x="178.35" y="403.64" width="5.15" height="4.86" fill="url(#barb)"/>
<rect x="183.5" y="401.81" width="5.15" height="6.69" fill="url(#barg)"/>
<rect x="188.65" y="397.64" width="5.15" height="10.86" fill="url(#bars)"/>
<rect x="199.35" y="380.09" width="5.15" height="28.41" fill="url(#bara)"/>
<rect x="204.5" y="403.64" width="5.15" height="4.86" fill="url(#barb)"/>
<rect x="209.65" y="404.21" width="5.15" height="4.29" fill="url(#barg)"/>
<rect x="214.8" y="400.55" width="5.15" height="7.95" fill="url(#bars)"/>
<rect x="225.5" y="386.4" width="5.15" height="22.1" fill="url(#bara)"/>
<rect x="230.65" y="402.19" width="5.15" height="6.31" fill="url(#barb)"/>
<rect x="235.8" y="397.14" width="5.15" height="11.36" fill="url(#barg)"/>
<rect x="240.95" y="400.04" width="5.15" height="8.46" fill="url(#bars)"/>
<rect x="251.65" y="378.83" width="5.15" height="29.67" fill="url(#bara)"/>
<rect x="256.8" y="402.19" width="5.15" height="6.31" fill="url(#barb)"/>
<rect x="261.95" y="387.54" width="5.15" height="20.96" fill="url(#barg)"/>
<rect x="267.1" y="392.72" width="5.15" height="15.78" fill="url(#bars)"/>
<rect x="277.8" y="382.81" width="5.15" height="25.69" fill="url(#bara)"/>
<rect x="282.95" y="398.02" width="5.15" height="10.48" fill="url(#barb)"/>
<rect x="288.1" y="385.9" width="5.15" height="22.6" fill="url(#barg)"/>
<rect x="293.25" y="383.31" width="5.15" height="25.19" fill="url(#bars)"/>
<rect x="303.95" y="367.47" width="5.15" height="41.03" fill="url(#bara)"/>
<rect x="309.1" y="395.87" width="5.15" height="12.63" fill="url(#barb)"/>
<rect x="314.25" y="368.1" width="5.15" height="40.4" fill="url(#barg)"/>
<rect x="319.4" y="354.46" width="5.15" height="54.04" fill="url(#bars)"/>
<rect x="330.1" y="357.74" width="5.15" height="50.76" fill="url(#bara)"/>
<rect x="335.25" y="382.74" width="5.15" height="25.76" fill="url(#barb)"/>
<rect x="340.4" y="355.09" width="5.15" height="53.41" fill="url(#barg)"/>
<rect x="345.55" y="335.27" width="5.15" height="73.23" fill="url(#bars)"/>
<rect x="356.25" y="352.57" width="5.15" height="55.93" fill="url(#bara)"/>
<rect x="361.4" y="384.26" width="5.15" height="24.24" fill="url(#barb)"/>
<rect x="366.55" y="351.05" width="5.15" height="57.45" fill="url(#barg)"/>
<rect x="371.7" y="309.39" width="5.15" height="99.11" fill="url(#bars)"/>
<rect x="382.4" y="338.87" width="5.15" height="69.63" fill="url(#bara)"/>
<rect x="387.55" y="370.62" width="5.15" height="37.88" fill="url(#barb)"/>
<rect x="392.7" y="338.87" width="5.15" height="69.63" fill="url(#barg)"/>
<rect x="397.85" y="303.83" width="5.15" height="104.67" fill="url(#bars)"/>
<rect x="170.2" y="219.1" width="235.4" height="189.4" fill="none" stroke="#111" stroke-width="1.25"/>
<line x1="167" y1="408.5" x2="170.2" y2="408.5" stroke="#111" stroke-width="1.25"/>
<text transform="translate(163.9,411.2) scale(1,1.0)" font-size="7.9" text-anchor="end" text-rendering="geometricPrecision" font-family="Liberation Serif" font-weight="bold" stroke="#111" stroke-width="0.18" fill="#111">0</text>
<line x1="168.4" y1="392.72" x2="170.2" y2="392.72" stroke="#111" stroke-width="1.25"/>
<line x1="167" y1="376.94" x2="170.2" y2="376.94" stroke="#111" stroke-width="1.25"/>
<text transform="translate(163.9,379.63) scale(1,1.0)" font-size="7.9" text-anchor="end" text-rendering="geometricPrecision" font-family="Liberation Serif" font-weight="bold" stroke="#111" stroke-width="0.18" fill="#111">50</text>
<line x1="168.4" y1="361.15" x2="170.2" y2="361.15" stroke="#111" stroke-width="1.25"/>
<line x1="167" y1="345.37" x2="170.2" y2="345.37" stroke="#111" stroke-width="1.25"/>
<text transform="translate(163.9,348.07) scale(1,1.0)" font-size="7.9" text-anchor="end" text-rendering="geometricPrecision" font-family="Liberation Serif" font-weight="bold" stroke="#111" stroke-width="0.18" fill="#111">100</text>
<line x1="168.4" y1="329.59" x2="170.2" y2="329.59" stroke="#111" stroke-width="1.25"/>
<line x1="167" y1="313.81" x2="170.2" y2="313.81" stroke="#111" stroke-width="1.25"/>
<text transform="translate(163.9,316.5) scale(1,1.0)" font-size="7.9" text-anchor="end" text-rendering="geometricPrecision" font-family="Liberation Serif" font-weight="bold" stroke="#111" stroke-width="0.18" fill="#111">150</text>
<line x1="168.4" y1="298.02" x2="170.2" y2="298.02" stroke="#111" stroke-width="1.25"/>
<line x1="167" y1="282.24" x2="170.2" y2="282.24" stroke="#111" stroke-width="1.25"/>
<text transform="translate(163.9,284.94) scale(1,1.0)" font-size="7.9" text-anchor="end" text-rendering="geometricPrecision" font-family="Liberation Serif" font-weight="bold" stroke="#111" stroke-width="0.18" fill="#111">200</text>
<line x1="168.4" y1="266.46" x2="170.2" y2="266.46" stroke="#111" stroke-width="1.25"/>
<line x1="167" y1="250.68" x2="170.2" y2="250.68" stroke="#111" stroke-width="1.25"/>
<text transform="translate(163.9,253.38) scale(1,1.0)" font-size="7.9" text-anchor="end" text-rendering="geometricPrecision" font-family="Liberation Serif" font-weight="bold" stroke="#111" stroke-width="0.18" fill="#111">250</text>
<line x1="168.4" y1="234.89" x2="170.2" y2="234.89" stroke="#111" stroke-width="1.25"/>
<line x1="167" y1="219.11" x2="170.2" y2="219.11" stroke="#111" stroke-width="1.25"/>
<text transform="translate(163.9,221.81) scale(1,1.0)" font-size="7.9" text-anchor="end" text-rendering="geometricPrecision" font-family="Liberation Serif" font-weight="bold" stroke="#111" stroke-width="0.18" fill="#111">300</text>
<line x1="183.5" y1="408.5" x2="183.5" y2="411.7" stroke="#111" stroke-width="1.25"/>
<text transform="translate(183.5,421.2) scale(1,1.0)" font-size="7.9" text-anchor="middle" text-rendering="geometricPrecision" font-family="Liberation Serif" font-weight="bold" stroke="#111" stroke-width="0.18" fill="#111">50</text>
<line x1="209.65" y1="408.5" x2="209.65" y2="411.7" stroke="#111" stroke-width="1.25"/>
<text transform="translate(209.65,421.2) scale(1,1.0)" font-size="7.9" text-anchor="middle" text-rendering="geometricPrecision" font-family="Liberation Serif" font-weight="bold" stroke="#111" stroke-width="0.18" fill="#111">75</text>
<line x1="235.8" y1="408.5" x2="235.8" y2="411.7" stroke="#111" stroke-width="1.25"/>
<text transform="translate(235.8,421.2) scale(1,1.0)" font-size="7.9" text-anchor="middle" text-rendering="geometricPrecision" font-family="Liberation Serif" font-weight="bold" stroke="#111" stroke-width="0.18" fill="#111">100</text>
<line x1="261.95" y1="408.5" x2="261.95" y2="411.7" stroke="#111" stroke-width="1.25"/>
<text transform="translate(261.95,421.2) scale(1,1.0)" font-size="7.9" text-anchor="middle" text-rendering="geometricPrecision" font-family="Liberation Serif" font-weight="bold" stroke="#111" stroke-width="0.18" fill="#111">125</text>
<line x1="288.1" y1="408.5" x2="288.1" y2="411.7" stroke="#111" stroke-width="1.25"/>
<text transform="translate(288.1,421.2) scale(1,1.0)" font-size="7.9" text-anchor="middle" text-rendering="geometricPrecision" font-family="Liberation Serif" font-weight="bold" stroke="#111" stroke-width="0.18" fill="#111">150</text>
<line x1="314.25" y1="408.5" x2="314.25" y2="411.7" stroke="#111" stroke-width="1.25"/>
<text transform="translate(314.25,421.2) scale(1,1.0)" font-size="7.9" text-anchor="middle" text-rendering="geometricPrecision" font-family="Liberation Serif" font-weight="bold" stroke="#111" stroke-width="0.18" fill="#111">175</text>
<line x1="340.4" y1="408.5" x2="340.4" y2="411.7" stroke="#111" stroke-width="1.25"/>
<text transform="translate(340.4,421.2) scale(1,1.0)" font-size="7.9" text-anchor="middle" text-rendering="geometricPrecision" font-family="Liberation Serif" font-weight="bold" stroke="#111" stroke-width="0.18" fill="#111">200</text>
<line x1="366.55" y1="408.5" x2="366.55" y2="411.7" stroke="#111" stroke-width="1.25"/>
<text transform="translate(366.55,421.2) scale(1,1.0)" font-size="7.9" text-anchor="middle" text-rendering="geometricPrecision" font-family="Liberation Serif" font-weight="bold" stroke="#111" stroke-width="0.18" fill="#111">225</text>
<line x1="392.7" y1="408.5" x2="392.7" y2="411.7" stroke="#111" stroke-width="1.25"/>
<text transform="translate(392.7,421.2) scale(1,1.0)" font-size="7.9" text-anchor="middle" text-rendering="geometricPrecision" font-family="Liberation Serif" font-weight="bold" stroke="#111" stroke-width="0.18" fill="#111">250</text>
<line x1="170.43" y1="408.5" x2="170.43" y2="410.3" stroke="#111" stroke-width="1.25"/>
<line x1="196.58" y1="408.5" x2="196.58" y2="410.3" stroke="#111" stroke-width="1.25"/>
<line x1="222.73" y1="408.5" x2="222.73" y2="410.3" stroke="#111" stroke-width="1.25"/>
<line x1="248.88" y1="408.5" x2="248.88" y2="410.3" stroke="#111" stroke-width="1.25"/>
<line x1="275.03" y1="408.5" x2="275.03" y2="410.3" stroke="#111" stroke-width="1.25"/>
<line x1="301.18" y1="408.5" x2="301.18" y2="410.3" stroke="#111" stroke-width="1.25"/>
<line x1="327.32" y1="408.5" x2="327.32" y2="410.3" stroke="#111" stroke-width="1.25"/>
<line x1="353.47" y1="408.5" x2="353.47" y2="410.3" stroke="#111" stroke-width="1.25"/>
<line x1="379.62" y1="408.5" x2="379.62" y2="410.3" stroke="#111" stroke-width="1.25"/>
<line x1="405.78" y1="408.5" x2="405.78" y2="410.3" stroke="#111" stroke-width="1.25"/>
<text x="288.4" y="436.5" font-size="9.9" text-anchor="middle" text-rendering="geometricPrecision" font-family="Liberation Serif" font-weight="bold" stroke="#111" stroke-width="0.18" fill="#111" >Temperature (°C)</text>
<text transform="translate(145.6,313.6) rotate(-90)" font-size="9.9" text-anchor="middle" text-rendering="geometricPrecision" font-family="Liberation Serif" font-weight="bold" stroke="#111" stroke-width="0.18" fill="#111">N<tspan font-size="6.5" dy="2">2</tspan><tspan dy="-2">O Concentration( ppm)</tspan></text>
<text x="137.6" y="222.3" font-size="9.8" text-anchor="start" text-rendering="geometricPrecision" font-family="Liberation Serif" font-weight="bold" stroke="#111" stroke-width="0.18" fill="#111" >(c)</text>
<rect x="238.6" y="234.6" width="21.4" height="10.4" fill="url(#bara)"/>
<text x="263" y="243.2" font-size="9.8" text-rendering="geometricPrecision" font-family="Liberation Serif" font-weight="bold" stroke="#111" stroke-width="0.18" fill="#111">α-MnO<tspan font-size="6.6" dy="2.3">2</tspan><tspan dy="-2.3">/X</tspan></text>
<rect x="238.6" y="253" width="21.4" height="10.4" fill="url(#barb)"/>
<text x="263" y="261.6" font-size="9.8" text-rendering="geometricPrecision" font-family="Liberation Serif" font-weight="bold" stroke="#111" stroke-width="0.18" fill="#111">β-MnO<tspan font-size="6.6" dy="2.3">2</tspan><tspan dy="-2.3">/X</tspan></text>
<rect x="238.6" y="271.4" width="21.4" height="10.4" fill="url(#barg)"/>
<text x="263" y="280" font-size="9.8" text-rendering="geometricPrecision" font-family="Liberation Serif" font-weight="bold" stroke="#111" stroke-width="0.18" fill="#111">γ–MnO<tspan font-size="6.6" dy="2.3">2</tspan><tspan dy="-2.3">/X</tspan></text>
<rect x="238.6" y="290" width="21.4" height="10.4" fill="url(#bars)"/>
<text x="263" y="298.6" font-size="9.8" text-rendering="geometricPrecision" font-family="Liberation Serif" font-weight="bold" stroke="#111" stroke-width="0.18" fill="#111">σ–MnO<tspan font-size="6.6" dy="2.3">2</tspan><tspan dy="-2.3">/X</tspan></text>
</svg></body></html>
